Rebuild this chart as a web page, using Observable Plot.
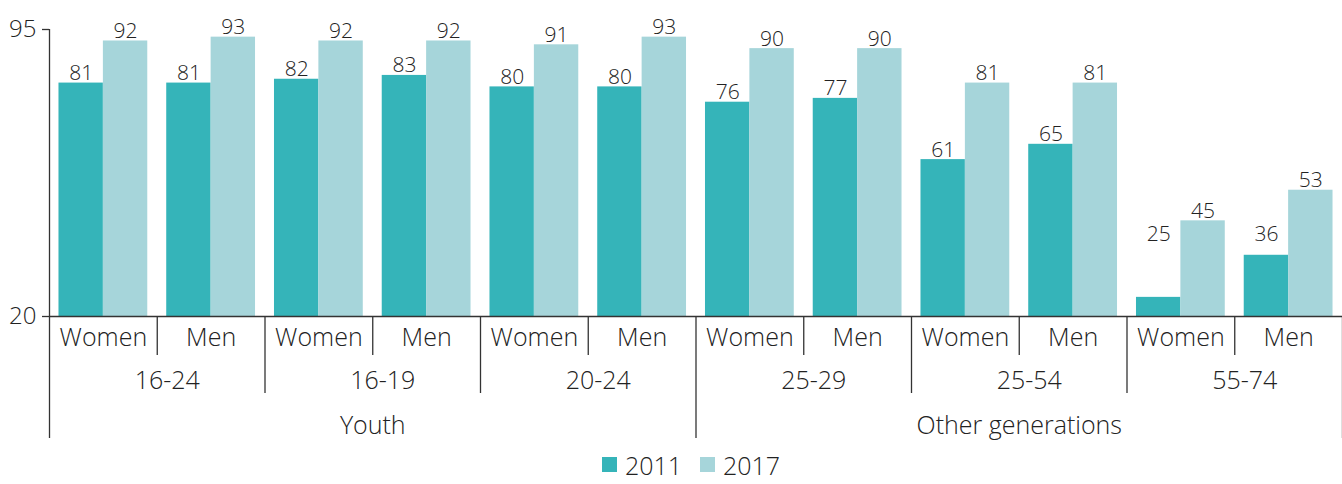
<!DOCTYPE html>
<html>
<head>
<meta charset="utf-8">
<script src="https://cdn.jsdelivr.net/npm/d3@7"></script>
<script src="https://cdn.jsdelivr.net/npm/@observablehq/plot@0.6"></script>
<style>
  body { margin: 0; background: #fff; font-family: "Open Sans", sans-serif; }
  #legend { display: flex; justify-content: center; align-items: center; height: 39px; font-size: 25px; color: #222; padding-left: 40px; font-weight: 300; }
  #legend span.sw { display: inline-block; width: 15px; height: 15px; margin-right: 8px; }
  #legend span.item { display: inline-flex; align-items: center; margin: 0 9px; }
  #chart svg text { font-weight: 300; }
</style>
</head>
<body>
<div id="chart"></div>
<div id="legend"></div>
<script>
const groups = ["16-24", "16-19", "20-24", "25-29", "25-54", "55-74"];
const genders = ["Women", "Men"];
const generations = ["Youth", "Other generations"];
const groupGeneration = ["Youth", "Youth", "Youth", "Other generations", "Other generations", "Other generations"];
const years = ["2011", "2017"];
const values2011 = [81, 81, 82, 83, 80, 80, 76, 77, 61, 65, 25, 36];
const values2017 = [92, 93, 92, 92, 91, 93, 90, 90, 81, 81, 45, 53];
const yTicks = [20, 95];
const colors = ["#35b4b9", "#a6d5da"];

const W = 1342, H = 445, plotTop = 29, plotBottom = 316;
const pad = 0.088, bw = 0.412;
const yMin = yTicks[0];
const labelFloor = 39;

const slots = [];
groups.forEach((g, gi) => genders.forEach((s, si) => slots.push({group: g, gender: s, i: gi * 2 + si})));

const rows = [];
slots.forEach(s => {
  [values2011, values2017].forEach((vals, j) => {
    const x1 = s.i + pad + j * bw;
    rows.push({group: s.group, gender: s.gender, year: years[j], value: vals[s.i], x1, x2: x1 + bw, xm: x1 + bw / 2});
  });
});

const genderDividers = d3.range(slots.length + 1).filter(k => k % 2 === 1);
const groupDividers = d3.range(0, slots.length + 1, 2).filter(k => {
  const gi = k / 2;
  return gi > 0 && gi < groups.length && groupGeneration[gi] === groupGeneration[gi - 1];
});
const genDividers = [0, slots.length].concat(d3.range(1, groups.length).filter(gi => groupGeneration[gi] !== groupGeneration[gi - 1]).map(gi => gi * 2));

const genLabels = generations.map(name => {
  const idx = groupGeneration.map((g, i) => g === name ? i : -1).filter(i => i >= 0);
  return {name, x: (idx[0] * 2 + (idx[idx.length - 1] + 1) * 2) / 2};
});

const plot = Plot.plot({
  width: W, height: H,
  marginLeft: 49, marginRight: 0, marginTop: plotTop, marginBottom: H - plotBottom,
  style: {fontFamily: "'Open Sans', sans-serif", color: "#222", background: "#fff"},
  x: {domain: [0, slots.length], axis: null},
  y: {domain: [yTicks[0], yTicks[1]], axis: null},
  color: {domain: years, range: colors},
  marks: [
    Plot.rectY(rows, {x1: "x1", x2: "x2", y1: yMin, y2: "value", fill: "year"}),
    Plot.text(rows, {x: "xm", y: d => Math.max(d.value, labelFloor), text: d => String(d.value), lineAnchor: "bottom", dy: -3, fontSize: 21, fill: "#222"}),
    Plot.ruleY([yMin], {stroke: "#333", strokeWidth: 1.3}),
    Plot.ruleY(yTicks, {x1: 0, x2: 0, insetLeft: -7, stroke: "#333", strokeWidth: 1.3}),
    Plot.text(yTicks, {x: 0, y: d => d, text: d => String(d), textAnchor: "end", dx: -13, fontSize: 24, fill: "#222"}),
    Plot.ruleX(genderDividers, {x: d => d, y1: yMin, y2: yMin, insetBottom: -39, stroke: "#333", strokeWidth: 1.3}),
    Plot.ruleX(groupDividers, {x: d => d, y1: yMin, y2: yMin, insetBottom: -77, stroke: "#333", strokeWidth: 1.3}),
    Plot.ruleX(genDividers, {x: d => d, y1: yMin, y2: yMin, insetBottom: -122, stroke: "#333", strokeWidth: 1.3}),
    Plot.ruleX([0], {y1: yTicks[1], y2: yMin, stroke: "#333", strokeWidth: 1.3}),
    Plot.text(slots, {x: d => d.i + 0.5, y: yMin, text: "gender", dy: 21, fontSize: 25, fill: "#222"}),
    Plot.text(groups, {x: (d, i) => i * 2 + 1, y: yMin, text: d => d, dy: 64, dx: 10, fontSize: 25, fill: "#222"}),
    Plot.text(genLabels, {x: "x", y: yMin, text: "name", dy: 109, fontSize: 25, fill: "#222"})
  ]
});
document.getElementById("chart").appendChild(plot);

const legend = document.getElementById("legend");
years.forEach((y, j) => {
  const item = document.createElement("span");
  item.className = "item";
  const sw = document.createElement("span");
  sw.className = "sw";
  sw.style.background = colors[j];
  item.appendChild(sw);
  item.appendChild(document.createTextNode(y));
  legend.appendChild(item);
});
</script>
</body>
</html>
